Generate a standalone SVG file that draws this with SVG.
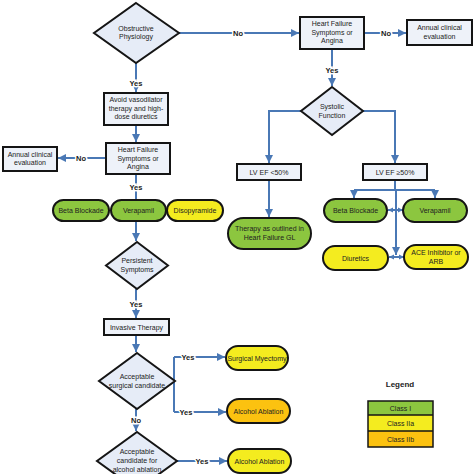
<svg xmlns="http://www.w3.org/2000/svg" width="474" height="474" viewBox="0 0 474 474">
<defs>
<marker id="ah" viewBox="0 0 10 10" refX="10" refY="5" markerWidth="8" markerHeight="8" markerUnits="userSpaceOnUse" orient="auto-start-reverse">
<path d="M0,0 L10,5 L0,10 z" fill="#4a78b5"/>
</marker>
<marker id="ahs" viewBox="0 0 10 10" refX="10" refY="5" markerWidth="5" markerHeight="6" markerUnits="userSpaceOnUse" orient="auto-start-reverse">
<path d="M0,0 L10,5 L0,10 z" fill="#4a78b5"/>
</marker>
<style>
.box{fill:#eef2f9;stroke:#151515;stroke-width:2}
.dia{fill:#e6ecf7;stroke:#151515;stroke-width:2}
.g{fill:#8cc63f;stroke:#151515;stroke-width:2}
.y{fill:#f4ec1f;stroke:#151515;stroke-width:2}
.o{fill:#fcc210;stroke:#151515;stroke-width:2}
.c{fill:none;stroke:#4a78b5;stroke-width:2}
.a{marker-end:url(#ah)}
.b{marker-start:url(#ahs);marker-end:url(#ahs)}
text{font-family:"Liberation Sans",Arial,sans-serif;font-size:7px;fill:#222;text-anchor:middle}
.lb{font-weight:bold;font-size:7.5px;stroke:#fff;stroke-width:3;paint-order:stroke}
</style>
</defs>
<g id="connectors">
<path class="c a" d="M179,33 H299"/>
<path class="c a" d="M364,33 H406"/>
<path class="c a" d="M332,49 V86"/>
<path class="c a" d="M301,111 H269 V163"/>
<path class="c a" d="M363,111 H395 V163"/>
<path class="c a" d="M269,180 V217"/>
<path class="c" d="M395,180 V190 M354,190 H435"/>
<path class="c a" d="M354,190 V198"/>
<path class="c a" d="M435,190 V198"/>
<path class="c a" d="M396,190 V255"/>
<path class="c b" d="M388,210 H403"/>
<path class="c b" d="M389,257 H404"/>
<path class="c a" d="M136,63 V92"/>
<path class="c a" d="M136,125 V142"/>
<path class="c a" d="M106,158 H58"/>
<path class="c" d="M136,174 V200"/>
<path class="c a" d="M136,221 V241"/>
<path class="c a" d="M136,289 V318"/>
<path class="c a" d="M136,335 V352"/>
<path class="c" d="M175,381 H174 M174,357 V412"/>
<path class="c a" d="M174,357 H225"/>
<path class="c a" d="M174,412 H226"/>
<path class="c a" d="M136,409 V431"/>
<path class="c a" d="M177,461 H227"/>
<text class="lb" x="238" y="36">No</text>
<text class="lb" x="386" y="36">No</text>
<text class="lb" x="332" y="73">Yes</text>
<text class="lb" x="136" y="86">Yes</text>
<text class="lb" x="81" y="161">No</text>
<text class="lb" x="136" y="190">Yes</text>
<text class="lb" x="136" y="307">Yes</text>
<text class="lb" x="188" y="360">Yes</text>
<text class="lb" x="186" y="415">Yes</text>
<text class="lb" x="136" y="423">No</text>
<text class="lb" x="202" y="464">Yes</text>
</g>
<g id="obstructive">
<polygon class="dia" points="136,3 179,33 136,63 94,33"/>
<text x="136" y="31">Obstructive</text><text x="136" y="39">Physiology</text>
</g>
<g id="hf-right">
<rect class="box" x="300" y="17" width="64" height="32"/>
<text x="332" y="26">Heart Failure</text><text x="332" y="34.5">Symptoms or</text><text x="332" y="43">Angina</text>
</g>
<g id="annual-right">
<rect class="box" x="407" y="20" width="65" height="25"/>
<text x="439.5" y="30">Annual clinical</text><text x="439.5" y="38.5">evaluation</text>
</g>
<g id="systolic">
<polygon class="dia" points="332,87 363,111 332,135 301,111"/>
<text x="332" y="109">Systolic</text><text x="332" y="117.5">Function</text>
</g>
<g id="lvef-low">
<rect class="box" x="237" y="164" width="64" height="16"/>
<text x="269" y="174.5">LV EF &lt;50%</text>
</g>
<g id="lvef-high">
<rect class="box" x="363" y="164" width="64" height="16"/>
<text x="395" y="174.5">LV EF ≥50%</text>
</g>
<g id="therapy-hf">
<rect class="g" x="228" y="218" width="83" height="31" rx="15.5"/>
<text x="269.5" y="231">Therapy as outlined in</text><text x="269.5" y="240">Heart Failure GL</text>
</g>
<g id="beta-right">
<rect class="g" x="324" y="199" width="63" height="23" rx="11.5"/>
<text x="355.5" y="213">Beta Blockade</text>
</g>
<g id="verapamil-right">
<rect class="g" x="403" y="199" width="64" height="23" rx="11.5"/>
<text x="435" y="213">Verapamil</text>
</g>
<g id="diuretics">
<rect class="y" x="323" y="246" width="65" height="24" rx="12"/>
<text x="355.5" y="260.5">Diuretics</text>
</g>
<g id="ace">
<rect class="y" x="404" y="245" width="64" height="24" rx="12"/>
<text x="436" y="255">ACE Inhibitor or</text><text x="436" y="263.5">ARB</text>
</g>
<g id="avoid">
<rect class="box" x="104" y="93" width="64" height="32"/>
<text x="136" y="102">Avoid vasodilator</text><text x="136" y="110.5">therapy and high-</text><text x="136" y="119">dose diuretics</text>
</g>
<g id="hf-left">
<rect class="box" x="106" y="143" width="64" height="31"/>
<text x="138" y="152">Heart Failure</text><text x="138" y="160.5">Symptoms or</text><text x="138" y="169">Angina</text>
</g>
<g id="annual-left">
<rect class="box" x="3" y="147" width="54" height="24"/>
<text x="30" y="156.5">Annual clinical</text><text x="30" y="165">evaluation</text>
</g>
<g id="beta-left">
<rect class="g" x="53" y="200" width="56" height="21" rx="10.5"/>
<text x="81" y="213">Beta Blockade</text>
</g>
<g id="verapamil-left">
<rect class="g" x="111" y="200" width="55" height="21" rx="10.5"/>
<text x="138.5" y="213">Verapamil</text>
</g>
<g id="disopyramide">
<rect class="y" x="167" y="200" width="56" height="21" rx="10.5"/>
<text x="195" y="213">Disopyramide</text>
</g>
<g id="persistent">
<polygon class="dia" points="137,242 168,265.5 137,289 106,265.5"/>
<text x="137" y="263">Persistent</text><text x="137" y="271.5">Symptoms</text>
</g>
<g id="invasive">
<rect class="box" x="104" y="319" width="65" height="16"/>
<text x="136.5" y="329.5">Invasive Therapy</text>
</g>
<g id="surgical-candidate">
<polygon class="dia" points="137,353 175,381 137,409 99,381"/>
<text x="137" y="379">Acceptable</text><text x="137" y="388">surgical candidate</text>
</g>
<g id="myectomy">
<rect class="y" x="226" y="346" width="62" height="24" rx="12"/>
<text x="257" y="360.5">Surgical Myectomy</text>
</g>
<g id="alcohol-1">
<rect class="o" x="227" y="399" width="63" height="24" rx="12"/>
<text x="258.5" y="413.5">Alcohol Ablation</text>
</g>
<g id="alcohol-candidate">
<polygon class="dia" points="137,432 177,461 137,490 97,461"/>
<text x="137" y="454">Acceptable</text><text x="137" y="463">candidate for</text><text x="137" y="471.5">alcohol ablation</text>
</g>
<g id="alcohol-2">
<rect class="y" x="228" y="449" width="63" height="24" rx="12"/>
<text x="259.5" y="463.5">Alcohol Ablation</text>
</g>
<g id="legend">
<text x="400" y="387" style="font-weight:bold;font-size:8px">Legend</text>
<rect x="368" y="401" width="65" height="14" fill="#8cc63f"/>
<rect x="368" y="415" width="65" height="16" fill="#f4ec1f"/>
<rect x="368" y="431" width="65" height="16" fill="#fcc210"/>
<path d="M368,401 H433 V447 H368 Z M368,415 H433 M368,431 H433" fill="none" stroke="#151515" stroke-width="1.5"/>
<text x="400.5" y="410.5">Class I</text>
<text x="400.5" y="425.5">Class IIa</text>
<text x="400.5" y="441.5">Class IIb</text>
</g>
</svg>
